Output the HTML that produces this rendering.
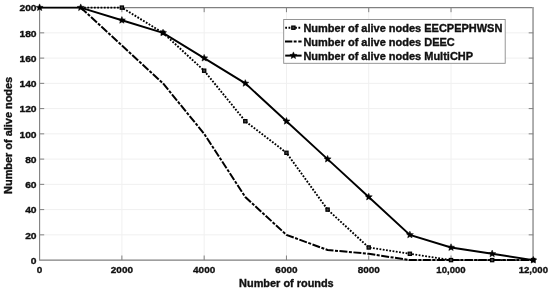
<!DOCTYPE html>
<html><head><meta charset="utf-8"><title>Number of alive nodes</title>
<style>
html,body{margin:0;padding:0;background:#fff;}
body{width:550px;height:291px;overflow:hidden;}
svg{display:block;}
text{font-family:"Liberation Sans",sans-serif;font-weight:bold;fill:#111;stroke:#111;stroke-width:0.35px;}
.tk{font-size:9.85px;}
.tx{font-size:9.8px;}
.lb{font-size:10.4px;}
.lg{font-size:10.4px;}
</style></head><body>
<svg width="550" height="291" viewBox="0 0 550 291">
<rect x="0" y="0" width="550" height="291" fill="#fff"/>
<g stroke="#f0f0f0" stroke-width="1">
<line x1="121.88" y1="7.6" x2="121.88" y2="260.1"/>
<line x1="204.17" y1="7.6" x2="204.17" y2="260.1"/>
<line x1="286.45" y1="7.6" x2="286.45" y2="260.1"/>
<line x1="368.73" y1="7.6" x2="368.73" y2="260.1"/>
<line x1="451.02" y1="7.6" x2="451.02" y2="260.1"/>
<line x1="39.6" y1="234.85" x2="533.3" y2="234.85"/>
<line x1="39.6" y1="209.60" x2="533.3" y2="209.60"/>
<line x1="39.6" y1="184.35" x2="533.3" y2="184.35"/>
<line x1="39.6" y1="159.10" x2="533.3" y2="159.10"/>
<line x1="39.6" y1="133.85" x2="533.3" y2="133.85"/>
<line x1="39.6" y1="108.60" x2="533.3" y2="108.60"/>
<line x1="39.6" y1="83.35" x2="533.3" y2="83.35"/>
<line x1="39.6" y1="58.10" x2="533.3" y2="58.10"/>
<line x1="39.6" y1="32.85" x2="533.3" y2="32.85"/>
</g>
<path d="M533.10 7.6 H39.6 V260.1 H533.10" fill="none" stroke="#808080" stroke-width="1.1"/>
<line x1="533.05" y1="7.05" x2="533.05" y2="260.65" stroke="#a2a2a2" stroke-width="1.7"/>
<g stroke="#808080" stroke-width="1">
<line x1="121.88" y1="260.1" x2="121.88" y2="255.50"/>
<line x1="121.88" y1="7.6" x2="121.88" y2="12.20"/>
<line x1="204.17" y1="260.1" x2="204.17" y2="255.50"/>
<line x1="204.17" y1="7.6" x2="204.17" y2="12.20"/>
<line x1="286.45" y1="260.1" x2="286.45" y2="255.50"/>
<line x1="286.45" y1="7.6" x2="286.45" y2="12.20"/>
<line x1="368.73" y1="260.1" x2="368.73" y2="255.50"/>
<line x1="368.73" y1="7.6" x2="368.73" y2="12.20"/>
<line x1="451.02" y1="260.1" x2="451.02" y2="255.50"/>
<line x1="451.02" y1="7.6" x2="451.02" y2="12.20"/>
<line x1="39.6" y1="234.85" x2="44.20" y2="234.85"/>
<line x1="533.3" y1="234.85" x2="528.70" y2="234.85"/>
<line x1="39.6" y1="209.60" x2="44.20" y2="209.60"/>
<line x1="533.3" y1="209.60" x2="528.70" y2="209.60"/>
<line x1="39.6" y1="184.35" x2="44.20" y2="184.35"/>
<line x1="533.3" y1="184.35" x2="528.70" y2="184.35"/>
<line x1="39.6" y1="159.10" x2="44.20" y2="159.10"/>
<line x1="533.3" y1="159.10" x2="528.70" y2="159.10"/>
<line x1="39.6" y1="133.85" x2="44.20" y2="133.85"/>
<line x1="533.3" y1="133.85" x2="528.70" y2="133.85"/>
<line x1="39.6" y1="108.60" x2="44.20" y2="108.60"/>
<line x1="533.3" y1="108.60" x2="528.70" y2="108.60"/>
<line x1="39.6" y1="83.35" x2="44.20" y2="83.35"/>
<line x1="533.3" y1="83.35" x2="528.70" y2="83.35"/>
<line x1="39.6" y1="58.10" x2="44.20" y2="58.10"/>
<line x1="533.3" y1="58.10" x2="528.70" y2="58.10"/>
<line x1="39.6" y1="32.85" x2="44.20" y2="32.85"/>
<line x1="533.3" y1="32.85" x2="528.70" y2="32.85"/>
</g>
<text class="tk tx" transform="translate(39.60 273.2) scale(1.02 1)" text-anchor="middle">0</text>
<text class="tk tx" transform="translate(121.88 273.2) scale(1.02 1)" text-anchor="middle">2000</text>
<text class="tk tx" transform="translate(204.17 273.2) scale(1.02 1)" text-anchor="middle">4000</text>
<text class="tk tx" transform="translate(286.45 273.2) scale(1.02 1)" text-anchor="middle">6000</text>
<text class="tk tx" transform="translate(368.73 273.2) scale(1.02 1)" text-anchor="middle">8000</text>
<text class="tk tx" transform="translate(451.02 273.2) scale(0.98 1)" text-anchor="middle">10,000</text>
<text class="tk tx" transform="translate(533.30 273.2) scale(0.98 1)" text-anchor="middle">12,000</text>
<text class="tk" transform="translate(36.6 263.90) scale(1.045 1)" text-anchor="end">0</text>
<text class="tk" transform="translate(36.6 238.65) scale(1.045 1)" text-anchor="end">20</text>
<text class="tk" transform="translate(36.6 213.40) scale(1.045 1)" text-anchor="end">40</text>
<text class="tk" transform="translate(36.6 188.15) scale(1.045 1)" text-anchor="end">60</text>
<text class="tk" transform="translate(36.6 162.90) scale(1.045 1)" text-anchor="end">80</text>
<text class="tk" transform="translate(36.6 137.65) scale(1.045 1)" text-anchor="end">100</text>
<text class="tk" transform="translate(36.6 112.40) scale(1.045 1)" text-anchor="end">120</text>
<text class="tk" transform="translate(36.6 87.15) scale(1.045 1)" text-anchor="end">140</text>
<text class="tk" transform="translate(36.6 61.90) scale(1.045 1)" text-anchor="end">160</text>
<text class="tk" transform="translate(36.6 36.65) scale(1.045 1)" text-anchor="end">180</text>
<text class="tk" transform="translate(36.6 11.40) scale(1.045 1)" text-anchor="end">200</text>
<text class="lb" transform="translate(286.4 287.1) scale(1.05 1)" text-anchor="middle">Number of rounds</text>
<text class="lb" transform="translate(12.2,135.4) rotate(-90) scale(1.05 1)" text-anchor="middle">Number of alive nodes</text>
<polyline points="80.74,7.60 121.88,45.47 163.02,83.35 204.17,133.85 245.31,196.98 286.45,234.85 327.59,250.00 368.73,253.79 409.87,260.10 451.02,260.10 492.16,260.10 533.30,260.10" fill="none" stroke="#000" stroke-width="2" stroke-dasharray="8,1.5,3,1.5"/>
<polyline points="80.74,7.60 121.88,7.60 163.02,32.85 204.17,70.72 245.31,121.22 286.45,152.79 327.59,209.60 368.73,247.48 409.87,253.79 451.02,260.10 492.16,260.10 533.30,260.10" fill="none" stroke="#000" stroke-width="1.9" stroke-dasharray="1.8,1.5"/>
<rect x="120.28" y="6.00" width="3.2" height="3.2" fill="#444" stroke="#000" stroke-width="1.25"/>
<rect x="161.42" y="31.25" width="3.2" height="3.2" fill="#444" stroke="#000" stroke-width="1.25"/>
<rect x="202.57" y="69.12" width="3.2" height="3.2" fill="#444" stroke="#000" stroke-width="1.25"/>
<rect x="243.71" y="119.62" width="3.2" height="3.2" fill="#444" stroke="#000" stroke-width="1.25"/>
<rect x="284.85" y="151.19" width="3.2" height="3.2" fill="#444" stroke="#000" stroke-width="1.25"/>
<rect x="325.99" y="208.00" width="3.2" height="3.2" fill="#444" stroke="#000" stroke-width="1.25"/>
<rect x="367.13" y="245.88" width="3.2" height="3.2" fill="#444" stroke="#000" stroke-width="1.25"/>
<rect x="408.27" y="252.19" width="3.2" height="3.2" fill="#444" stroke="#000" stroke-width="1.25"/>
<rect x="449.42" y="258.50" width="3.2" height="3.2" fill="#444" stroke="#000" stroke-width="1.25"/>
<rect x="490.56" y="258.50" width="3.2" height="3.2" fill="#444" stroke="#000" stroke-width="1.25"/>
<rect x="531.70" y="258.50" width="3.2" height="3.2" fill="#444" stroke="#000" stroke-width="1.25"/>
<polyline points="39.60,7.60 80.74,7.60 121.88,20.22 163.02,32.85 204.17,58.10 245.31,83.35 286.45,121.22 327.59,159.10 368.73,196.98 409.87,234.85 451.02,247.48 492.16,253.79 533.30,260.10" fill="none" stroke="#000" stroke-width="1.9"/>
<polygon points="39.60,3.90 40.58,6.25 43.12,6.46 41.18,8.11 41.77,10.59 39.60,9.26 37.43,10.59 38.02,8.11 36.08,6.46 38.62,6.25" fill="#000" stroke="#000" stroke-width="0.5" stroke-linejoin="miter"/>
<polygon points="80.74,3.90 81.72,6.25 84.26,6.46 82.33,8.11 82.92,10.59 80.74,9.26 78.57,10.59 79.16,8.11 77.22,6.46 79.76,6.25" fill="#000" stroke="#000" stroke-width="0.5" stroke-linejoin="miter"/>
<polygon points="121.88,16.52 122.86,18.88 125.40,19.08 123.47,20.74 124.06,23.22 121.88,21.89 119.71,23.22 120.30,20.74 118.36,19.08 120.90,18.88" fill="#000" stroke="#000" stroke-width="0.5" stroke-linejoin="miter"/>
<polygon points="163.02,29.15 164.00,31.50 166.54,31.71 164.61,33.36 165.20,35.84 163.02,34.51 160.85,35.84 161.44,33.36 159.51,31.71 162.05,31.50" fill="#000" stroke="#000" stroke-width="0.5" stroke-linejoin="miter"/>
<polygon points="204.17,54.40 205.15,56.75 207.69,56.96 205.75,58.61 206.34,61.09 204.17,59.76 201.99,61.09 202.58,58.61 200.65,56.96 203.19,56.75" fill="#000" stroke="#000" stroke-width="0.5" stroke-linejoin="miter"/>
<polygon points="245.31,79.65 246.29,82.00 248.83,82.21 246.89,83.86 247.48,86.34 245.31,85.02 243.13,86.34 243.72,83.86 241.79,82.21 244.33,82.00" fill="#000" stroke="#000" stroke-width="0.5" stroke-linejoin="miter"/>
<polygon points="286.45,117.52 287.43,119.88 289.97,120.08 288.03,121.74 288.62,124.22 286.45,122.89 284.28,124.22 284.87,121.74 282.93,120.08 285.47,119.88" fill="#000" stroke="#000" stroke-width="0.5" stroke-linejoin="miter"/>
<polygon points="327.59,155.40 328.57,157.75 331.11,157.96 329.18,159.61 329.77,162.09 327.59,160.77 325.42,162.09 326.01,159.61 324.07,157.96 326.61,157.75" fill="#000" stroke="#000" stroke-width="0.5" stroke-linejoin="miter"/>
<polygon points="368.73,193.28 369.71,195.63 372.25,195.83 370.32,197.49 370.91,199.97 368.73,198.64 366.56,199.97 367.15,197.49 365.21,195.83 367.75,195.63" fill="#000" stroke="#000" stroke-width="0.5" stroke-linejoin="miter"/>
<polygon points="409.87,231.15 410.85,233.50 413.39,233.71 411.46,235.36 412.05,237.84 409.87,236.52 407.70,237.84 408.29,235.36 406.36,233.71 408.90,233.50" fill="#000" stroke="#000" stroke-width="0.5" stroke-linejoin="miter"/>
<polygon points="451.02,243.78 452.00,246.13 454.54,246.33 452.60,247.99 453.19,250.47 451.02,249.14 448.84,250.47 449.43,247.99 447.50,246.33 450.04,246.13" fill="#000" stroke="#000" stroke-width="0.5" stroke-linejoin="miter"/>
<polygon points="492.16,250.09 493.14,252.44 495.68,252.64 493.74,254.30 494.33,256.78 492.16,255.45 489.98,256.78 490.57,254.30 488.64,252.64 491.18,252.44" fill="#000" stroke="#000" stroke-width="0.5" stroke-linejoin="miter"/>
<polygon points="533.30,256.40 534.28,258.75 536.82,258.96 534.88,260.61 535.47,263.09 533.30,261.77 531.13,263.09 531.72,260.61 529.78,258.96 532.32,258.75" fill="#000" stroke="#000" stroke-width="0.5" stroke-linejoin="miter"/>
<rect x="283.7" y="19.5" width="221.5" height="43.8" fill="#fff" stroke="#8a8a8a" stroke-width="0.9"/>
<line x1="285.2" y1="27.7" x2="301.6" y2="27.7" stroke="#000" stroke-width="1.9" stroke-dasharray="1.8,1.5"/>
<rect x="291.80" y="26.10" width="3.2" height="3.2" fill="#444" stroke="#000" stroke-width="1.25"/>
<line x1="285.0" y1="41.5" x2="301.6" y2="41.5" stroke="#000" stroke-width="2" stroke-dasharray="7.3,1.4,2.9,1.7"/>
<line x1="285.2" y1="55.6" x2="301.6" y2="55.6" stroke="#000" stroke-width="2"/>
<polygon points="293.40,51.90 294.38,54.25 296.92,54.46 294.98,56.11 295.57,58.59 293.40,57.27 291.23,58.59 291.82,56.11 289.88,54.46 292.42,54.25" fill="#000" stroke="#000" stroke-width="0.5" stroke-linejoin="miter"/>
<text class="lg" transform="translate(303.4 31.50) scale(1.058 1)">Number of alive nodes EECPEPHWSN</text>
<text class="lg" transform="translate(303.4 45.50) scale(1.058 1)">Number of alive nodes DEEC</text>
<text class="lg" transform="translate(303.4 60.00) scale(1.058 1)">Number of alive nodes MultiCHP</text>
</svg></body></html>
